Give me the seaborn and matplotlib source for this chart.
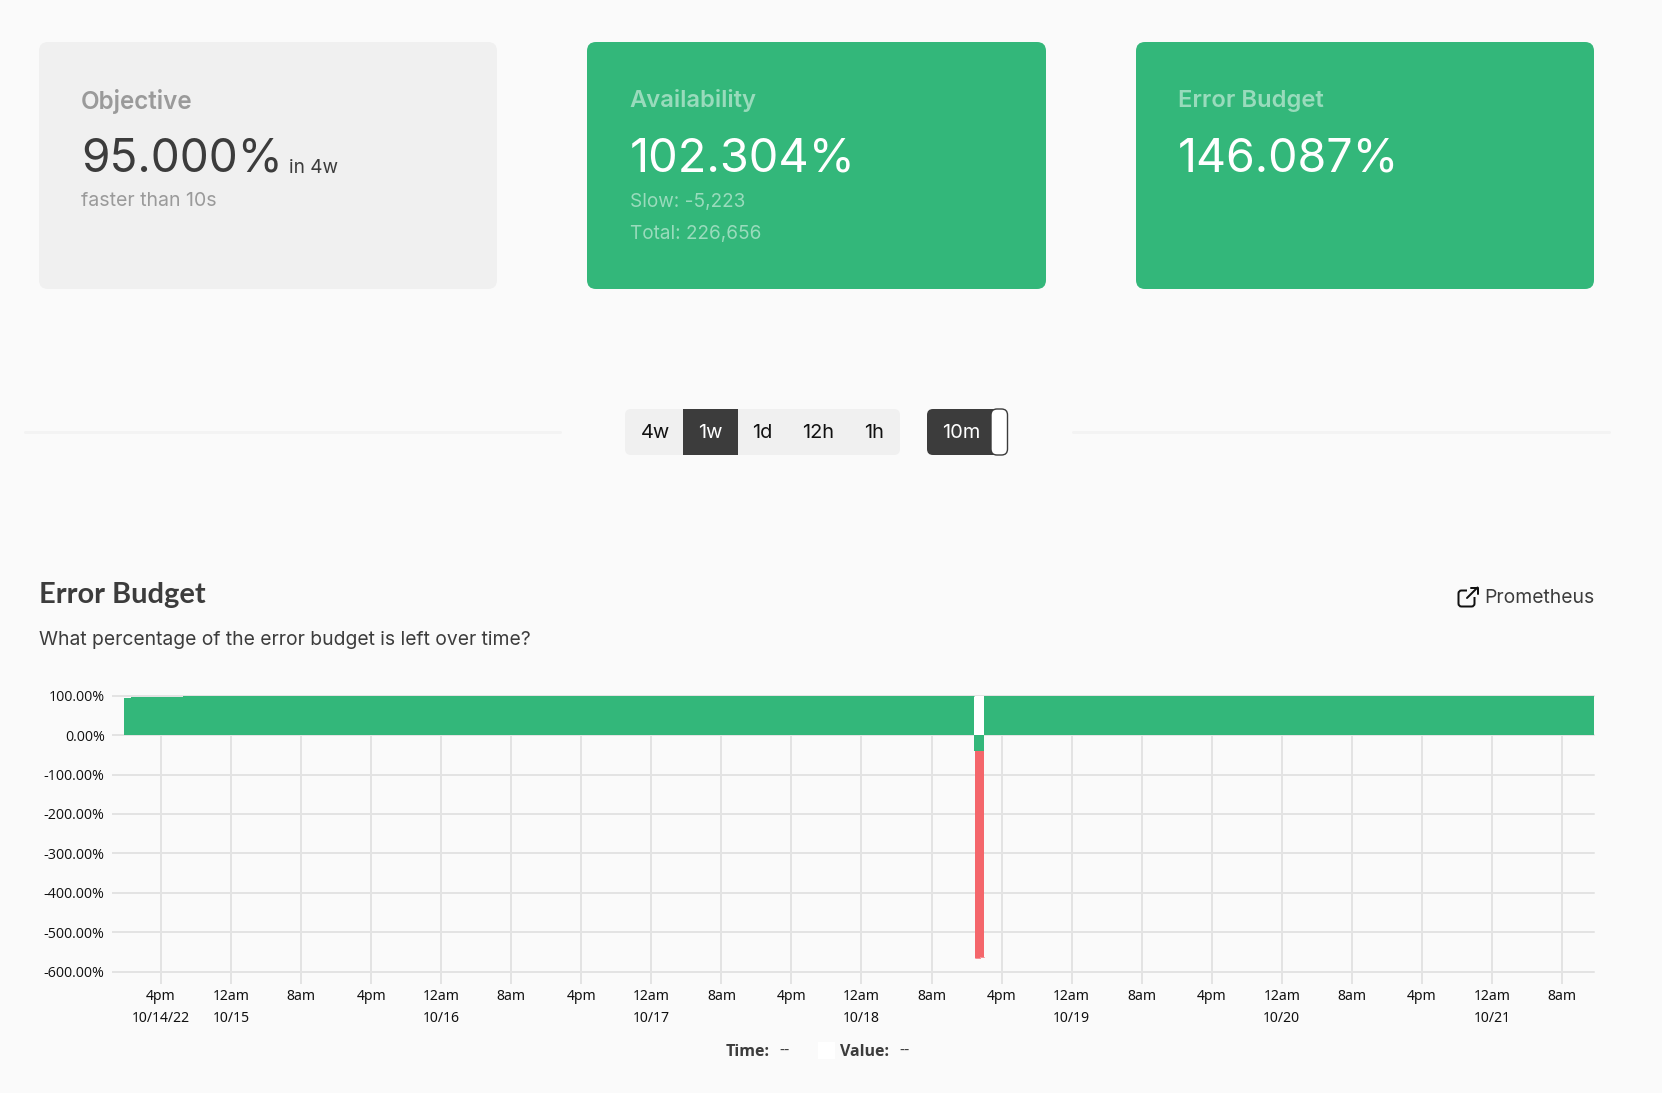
import matplotlib
matplotlib.use('Agg')
from matplotlib import pyplot as plt
from matplotlib.patches import FancyBboxPatch, Rectangle
import pandas as pd
import seaborn as sns

BG = '#fafafa'
GREEN = '#33b77a'
RED = '#f4666b'
GRID = '#e3e3e3'
DARK = '#3c3c3c'
GREY = '#9a9a9a'
FAINT = '#99dbbc'

# chart data, hours counted from 10/14 4pm
tick_hours = list(range(0, 161, 8))
tick_labels = ['4pm\n10/14/22', '12am\n10/15', '8am', '4pm', '12am\n10/16', '8am', '4pm',
               '12am\n10/17', '8am', '4pm', '12am\n10/18', '8am', '4pm', '12am\n10/19',
               '8am', '4pm', '12am\n10/20', '8am', '4pm', '12am\n10/21', '8am']
y_ticks = [100, 0, -100, -200, -300, -400, -500, -600]

before_hours = [-4.26, -3.43, 2.55, 92.9]
before_values = [94, 96, 98, 99]
after_hours = [94.0, 163.6]
after_values = [99, 99]
spike_hours = [92.95, 93.5, 94.0]
spike_values = [-566, -562, -562]
spike_green_floor = -40

range_labels = ['4w', '1w', '1d', '12h', '1h']
selected_range = '1w'


def px(size):
    return size * 0.72


def card(ax, x0, x1, color):
    ax.add_patch(FancyBboxPatch((x0 + 9, 51), x1 - x0 - 18, 229, boxstyle='round,pad=9,rounding_size=9',
                                fc=color, ec='none'))


def txt(ax, x, y, s, size, color, weight='normal', ha='left', va='center', family='Inter'):
    ax.text(x, y, s, fontsize=px(size), color=color, fontweight=weight, ha=ha, va=va, family=family)


sns.set_theme(style='whitegrid', rc={'figure.facecolor': BG, 'axes.facecolor': 'none', 'grid.color': GRID,
                                     'grid.linewidth': px(2), 'axes.edgecolor': 'none'})

fig = plt.figure(figsize=(16.62, 10.93), dpi=100)

# page layer in pixel coordinates
page = fig.add_axes([0, 0, 1, 1])
page.set_xlim(0, 1662)
page.set_ylim(1093, 0)
page.axis('off')

card(page, 39, 497, '#f0f0f0')
card(page, 587, 1046, GREEN)
card(page, 1136, 1594, GREEN)

txt(page, 81, 101, 'Objective', 24.2, GREY, 'semibold')
txt(page, 81, 160, '95.000%', 46, DARK)
txt(page, 289, 168, 'in 4w', 19, DARK)
txt(page, 81, 201, 'faster than 10s', 19.5, GREY)

txt(page, 629.5, 100, 'Availability', 23.8, FAINT, 'semibold')
txt(page, 630, 160, '102.304%', 47, 'white')
txt(page, 630, 202, 'Slow: -5,223', 19, FAINT)
txt(page, 630, 234, 'Total: 226,656', 19, FAINT)

txt(page, 1178, 101, 'Error Budget', 23.8, FAINT, 'semibold')
txt(page, 1178, 160, '146.087%', 46.6, 'white')

# range selector
page.plot([25, 560], [431.5, 431.5], color='#f3f3f3', lw=px(3))
page.plot([1073, 1609], [431.5, 431.5], color='#f3f3f3', lw=px(3))
page.add_patch(FancyBboxPatch((631, 415), 263, 34, boxstyle='round,pad=6,rounding_size=6', fc='#f0f0f0', ec='none'))
page.add_patch(Rectangle((683, 409), 55, 46, fc=DARK, ec='none'))
for label, cx in zip(range_labels, [655, 710.5, 762.7, 818, 874]):
    txt(page, cx, 433, label, 20, 'white' if label == selected_range else '#111111', ha='center')
page.add_patch(FancyBboxPatch((933, 415), 68, 34, boxstyle='round,pad=6,rounding_size=6', fc=DARK, ec='none'))
page.add_patch(FancyBboxPatch((997, 415), 4.5, 34, boxstyle='round,pad=6,rounding_size=6', fc='white', ec=DARK, lw=1))
txt(page, 961, 433, '10m', 20, 'white', ha='center')

# heading
txt(page, 39, 595, 'Error Budget', 29, DARK, 'bold', family='Lato')
txt(page, 39, 640, 'What percentage of the error budget is left over time?', 19.3, DARK)
txt(page, 1484, 598, 'Prometheus', 19.3, DARK)
page.add_patch(FancyBboxPatch((1460, 592), 13, 13, boxstyle='round,pad=1.5,rounding_size=3', fc=BG, ec='#111111', lw=px(2)))
page.add_patch(Rectangle((1467, 586), 12, 11, fc=BG, ec='none'))
page.plot([1467, 1477.5], [598, 587.5], color='#111111', lw=px(2))
page.plot([1471, 1477.5, 1477.5], [587.5, 587.5, 594], color='#111111', lw=px(2))

# legend row under the chart
txt(page, 726, 1052, 'Time:', 16, DARK, 'bold', family='Open Sans')
txt(page, 779, 1051, '--', 16, DARK, family='Open Sans')
page.add_patch(Rectangle((818, 1042), 17, 17, fc='white', ec='none'))
txt(page, 840, 1052, 'Value:', 16, DARK, 'bold', family='Open Sans')
txt(page, 899, 1051, '--', 16, DARK, family='Open Sans')

# the chart itself
ax = fig.add_axes([123.7 / 1662, 1 - 971.5 / 1093, (1593.5 - 123.7) / 1662, (971.5 - 695.7) / 1093])
ax.set_xlim(before_hours[0], after_hours[-1])
ax.set_ylim(-600, 100)
ax.set_axisbelow(True)

before = pd.DataFrame({'hours': before_hours, 'budget': before_values})
after = pd.DataFrame({'hours': after_hours, 'budget': after_values})
spike = pd.DataFrame({'hours': spike_hours, 'budget': spike_values})

for part in [before, after]:
    sns.lineplot(data=part, x='hours', y='budget', drawstyle='steps-post', color=GREEN, lw=0.5, ax=ax)
    ax.fill_between(part['hours'], part['budget'], 0, step='post', color=GREEN, lw=0, zorder=2)

gap = [before_hours[-1], after_hours[0]]
ax.fill_between(gap, 0, 100, color='white', lw=0, zorder=1.5)
ax.fill_between(gap, spike_green_floor, 0, color=GREEN, lw=0, zorder=2)
sns.lineplot(data=spike, x='hours', y='budget', drawstyle='steps-post', color=RED, lw=0.5, ax=ax)
ax.fill_between(spike['hours'], spike['budget'], spike_green_floor, step='post', color=RED, lw=0, zorder=2)

ax.set_xticks(tick_hours)
ax.set_xticklabels(tick_labels, fontsize=px(14), family='Noto Sans', color='#111111', linespacing=1.6)
ax.set_yticks(y_ticks)
ax.set_yticklabels([f'{v:.2f}%' for v in y_ticks], fontsize=px(14.3), family='Open Sans', color='#111111')
ax.tick_params(axis='x', length=px(12), width=px(2), color=GRID, pad=px(5.5), bottom=True)
ax.tick_params(axis='y', length=px(12), width=px(2), color=GRID, pad=px(7), left=True)
for line in ax.get_xgridlines() + ax.get_ygridlines():
    line.set_clip_on(False)
ax.set_xlabel('')
ax.set_ylabel('')
sns.despine(ax=ax, left=True, bottom=True)

fig.savefig('out.png', dpi=100, facecolor=BG)
